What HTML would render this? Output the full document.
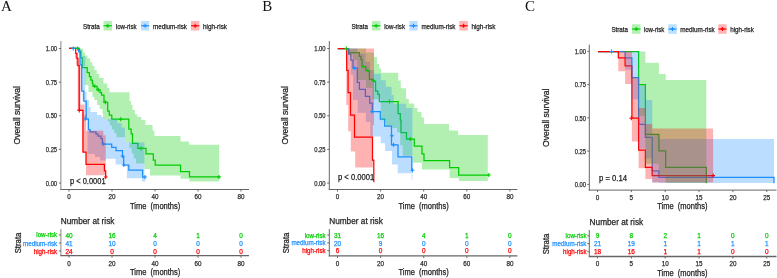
<!DOCTYPE html>
<html><head><meta charset="utf-8"><style>
html,body{margin:0;padding:0;background:#fff;}
svg{display:block;filter:blur(0.35px);}
</style></head><body>
<svg width="777" height="278" viewBox="0 0 777 278">
<rect width="777" height="278" fill="#fff"/>
<polyline points="69.0,48.4 79.3,48.4 79.3,51.2 80.8,51.2 80.8,57.6 82.2,57.6 82.2,67.7 87.2,67.7 87.2,72.7 89.4,72.7 89.4,76.5 90.9,76.5 90.9,80.0 92.3,80.0 92.3,83.0 93.0,83.0 93.0,86.3 97.1,86.3 97.1,89.8 100.0,89.8 100.0,92.6 101.6,92.6 101.6,95.0 104.0,95.0 104.0,102.3 107.7,102.3 107.7,111.2 109.3,111.2 109.3,115.2 111.8,115.2 111.8,119.2 128.8,119.2 128.8,129.0 131.2,129.0 131.2,133.9 132.5,133.9 132.5,143.4 137.9,143.4 137.9,148.4 146.0,148.4 146.0,153.9 153.3,153.9 153.3,160.2 155.2,160.2 155.2,165.2 180.5,165.2 180.5,171.5 189.5,171.5 189.5,176.9 219.2,176.9" fill="none" stroke="#00cd00" stroke-width="1.25" stroke-linejoin="miter" stroke-linecap="butt"/>
<polyline points="69.0,48.4 78.6,48.4 78.6,51.9 80.0,51.9 80.0,64.8 81.7,64.8 81.7,91.0 83.8,91.0 83.8,101.0 86.2,101.0 86.2,119.0 88.4,119.0 88.4,129.5 90.2,129.5 90.2,131.8 96.0,131.8 96.0,134.0 98.0,134.0 98.0,136.2 101.0,136.2 101.0,138.7 102.4,138.7 102.4,144.0 111.7,144.0 111.7,147.4 116.0,147.4 116.0,150.5 122.5,150.5 122.5,156.3 123.7,156.3 123.7,165.0 128.8,165.0 128.8,170.1 142.6,170.1 142.6,177.0 145.2,177.0" fill="none" stroke="#1e90ff" stroke-width="1.25" stroke-linejoin="miter" stroke-linecap="butt"/>
<polyline points="69.0,48.4 75.7,48.4 75.7,53.3 76.9,53.3 76.9,58.4 77.9,58.4 77.9,65.5 79.2,65.5 79.2,110.4 83.0,110.4 83.0,152.2 86.0,152.2 86.0,164.3 104.4,164.3 104.4,170.8 105.7,170.8 105.7,177.6" fill="none" stroke="#ff0000" stroke-width="1.25" stroke-linejoin="miter" stroke-linecap="butt"/>
<g opacity="0.3"><polygon points="79.6,48.4 82.9,48.4 82.9,52.6 85.0,52.6 85.0,55.5 87.5,55.5 87.5,58.2 90.2,58.2 90.2,62.3 92.3,62.3 92.3,65.8 94.4,65.8 94.4,70.0 96.8,70.0 96.8,74.0 99.2,74.0 99.2,78.0 103.5,78.0 103.5,83.5 107.2,83.5 107.2,88.0 109.4,88.0 109.4,92.3 129.5,92.3 129.5,101.0 131.0,101.0 131.0,105.0 132.6,105.0 132.6,110.0 135.0,110.0 135.0,114.2 137.2,114.2 137.2,117.0 141.3,117.0 141.3,120.0 145.4,120.0 145.4,125.0 152.6,125.0 152.6,130.6 154.4,130.6 154.4,136.0 180.5,136.0 180.5,141.4 189.0,141.4 189.0,144.7 219.2,144.7 219.2,181.4 189.5,181.4 189.5,178.7 180.5,178.7 180.5,175.5 150.0,175.5 150.0,169.0 144.4,169.0 144.4,163.5 136.0,163.5 136.0,158.6 133.6,158.6 133.6,153.2 131.5,153.2 131.5,147.8 129.3,147.8 129.3,142.4 125.0,142.4 125.0,137.3 116.4,137.3 116.4,133.0 114.2,133.0 114.2,129.5 112.0,129.5 112.0,125.5 109.9,125.5 109.9,121.5 107.7,121.5 107.7,119.3 103.0,119.3 103.0,113.0 102.4,113.0 102.4,109.0 99.7,109.0 99.7,105.0 97.0,105.0 97.0,100.0 94.3,100.0 94.3,97.0 92.5,97.0 92.5,92.0 88.4,92.0 88.4,85.0 84.6,85.0 84.6,66.0 82.5,66.0 82.5,56.0 81.0,56.0 81.0,51.0 79.6,51.0 79.6,48.4" fill="#00cd00"/></g>
<g opacity="0.3"><polygon points="78.3,48.4 80.5,48.4 80.5,51.0 81.5,51.0 81.5,56.0 85.2,56.0 85.2,92.0 86.6,92.0 86.6,100.0 88.9,100.0 88.9,107.0 90.7,107.0 90.7,112.0 97.0,112.0 97.0,115.0 101.5,115.0 101.5,117.0 103.0,117.0 103.0,119.3 117.4,119.3 117.4,123.3 121.8,123.3 121.8,127.4 125.0,127.4 125.0,142.4 144.4,142.4 144.4,178.0 145.3,178.0 145.3,181.5 142.0,181.5 142.0,178.3 126.9,178.3 126.9,164.4 115.6,164.4 115.6,158.8 105.8,158.8 105.8,160.5 100.0,160.5 100.0,157.0 95.0,157.0 95.0,154.0 87.5,154.0 87.5,119.0 84.5,119.0 84.5,101.0 82.5,101.0 82.5,91.0 81.0,91.0 81.0,65.0 79.5,65.0 79.5,51.0 78.3,51.0" fill="#1e90ff"/></g>
<g opacity="0.3"><polygon points="75.7,48.4 75.7,53.3 77.5,53.3 77.5,58.4 78.7,58.4 78.7,65.5 80.5,65.5 80.5,104.6 84.4,104.6 84.4,115.0 86.2,115.0 86.2,130.7 103.3,130.7 103.3,135.2 105.7,135.2 105.7,175.3 86.0,175.3 86.0,152.2 82.0,152.2 82.0,110.0 77.7,110.0 77.7,65.5 76.0,65.5 76.0,58.4 75.0,58.4 75.0,53.3 75.7,53.3" fill="#ff0000"/></g>
<path d="M75.7,48.4H79.5M77.6,46.4V50.4" stroke="#00cd00" stroke-width="1.1" fill="none"/>
<path d="M92.9,86.3H96.7M94.8,84.3V88.3" stroke="#00cd00" stroke-width="1.1" fill="none"/>
<path d="M96.4,89.8H100.2M98.3,87.8V91.8" stroke="#00cd00" stroke-width="1.1" fill="none"/>
<path d="M103.4,102.3H107.2M105.3,100.3V104.3" stroke="#00cd00" stroke-width="1.1" fill="none"/>
<path d="M118.8,119.2H122.6M120.7,117.2V121.2" stroke="#00cd00" stroke-width="1.1" fill="none"/>
<path d="M139.2,148.4H143.0M141.1,146.4V150.4" stroke="#00cd00" stroke-width="1.1" fill="none"/>
<path d="M217.1,176.9H220.9M219.0,174.9V178.9" stroke="#00cd00" stroke-width="1.1" fill="none"/>
<path d="M71.4,48.4H75.2M73.3,46.4V50.4" stroke="#1e90ff" stroke-width="1.1" fill="none"/>
<path d="M83.3,119.0H87.1M85.2,117.0V121.0" stroke="#1e90ff" stroke-width="1.1" fill="none"/>
<path d="M101.5,144.0H105.3M103.4,142.0V146.0" stroke="#1e90ff" stroke-width="1.1" fill="none"/>
<path d="M120.6,156.0H124.4M122.5,154.0V158.0" stroke="#1e90ff" stroke-width="1.1" fill="none"/>
<path d="M121.8,165.0H125.6M123.7,163.0V167.0" stroke="#1e90ff" stroke-width="1.1" fill="none"/>
<path d="M143.1,177.0H146.9M145.0,175.0V179.0" stroke="#1e90ff" stroke-width="1.1" fill="none"/>
<path d="M77.4,110.4H81.2M79.3,108.4V112.4" stroke="#ff0000" stroke-width="1.1" fill="none"/>
<path d="M103.8,177.0H107.6M105.7,175.0V179.0" stroke="#ff0000" stroke-width="1.1" fill="none"/>
<polyline points="337.8,48.5 348.6,48.5 348.6,52.6 359.4,52.6 359.4,56.3 361.0,56.3 361.0,59.6 362.1,59.6 362.1,66.6 365.9,66.6 365.9,70.6 369.4,70.6 369.4,79.4 373.6,79.4 373.6,81.3 375.6,81.3 375.6,91.0 377.8,91.0 377.8,94.3 379.4,94.3 379.4,101.5 398.1,101.5 398.1,113.7 400.3,113.7 400.3,120.2 401.0,120.2 401.0,132.6 406.5,132.6 406.5,139.0 414.3,139.0 414.3,146.0 422.0,146.0 422.0,153.8 424.0,153.8 424.0,160.5 449.6,160.5 449.6,167.7 458.7,167.7 458.7,175.0 489.0,175.0" fill="none" stroke="#00cd00" stroke-width="1.25" stroke-linejoin="miter" stroke-linecap="butt"/>
<polyline points="337.8,48.5 348.6,48.5 348.6,54.2 350.8,54.2 350.8,60.0 353.0,60.0 353.0,68.2 357.3,68.2 357.3,82.4 359.4,82.4 359.4,89.4 365.4,89.4 365.4,96.4 369.7,96.4 369.7,103.0 372.3,103.0 372.3,111.6 380.3,111.6 380.3,119.0 384.7,119.0 384.7,126.0 391.5,126.0 391.5,144.8 398.0,144.8 398.0,156.9 411.8,156.9 411.8,170.2 412.5,170.2" fill="none" stroke="#1e90ff" stroke-width="1.25" stroke-linejoin="miter" stroke-linecap="butt"/>
<polyline points="337.8,48.5 346.7,48.5 346.7,70.4 348.1,70.4 348.1,92.7 350.5,92.7 350.5,115.2 354.5,115.2 354.5,137.2 372.5,137.2 372.5,160.0 373.8,160.0 373.8,182.3" fill="none" stroke="#ff0000" stroke-width="1.25" stroke-linejoin="miter" stroke-linecap="butt"/>
<g opacity="0.3"><polygon points="348.6,48.5 365.9,48.5 365.9,52.6 374.0,52.6 374.0,57.0 376.9,57.0 376.9,64.1 379.2,64.1 379.2,68.5 381.0,68.5 381.0,72.8 398.2,72.8 398.2,80.5 400.8,80.5 400.8,88.3 406.0,88.3 406.0,98.7 408.8,98.7 408.8,103.5 414.2,103.5 414.2,108.0 417.5,108.0 417.5,112.0 421.5,112.0 421.5,117.5 424.0,117.5 424.0,124.0 449.0,124.0 449.0,130.5 458.2,130.5 458.2,135.0 487.8,135.0 487.8,181.1 458.9,181.1 458.9,178.0 449.6,178.0 449.6,169.6 421.9,169.6 421.9,162.7 412.8,162.7 412.8,155.7 402.7,155.7 402.7,145.2 400.2,145.2 400.2,132.6 397.0,132.6 397.0,128.0 392.3,128.0 392.3,126.0 385.9,126.0 385.9,120.2 380.8,120.2 380.8,99.3 372.4,99.3 372.4,88.0 366.0,88.0 366.0,80.0 357.3,80.0 357.3,60.0 353.0,60.0 353.0,55.0 348.6,55.0" fill="#00cd00"/></g>
<g opacity="0.3"><polygon points="348.6,48.5 357.3,48.5 357.3,53.6 365.5,53.6 365.5,62.0 370.0,62.0 370.0,70.0 374.0,70.0 374.0,73.7 380.8,73.7 380.8,80.2 385.8,80.2 385.8,86.7 391.6,86.7 391.6,95.0 393.7,95.0 393.7,103.7 406.0,103.7 406.0,108.0 412.4,108.0 412.4,179.6 411.6,179.6 411.6,173.3 397.7,173.3 397.7,164.5 392.0,164.5 392.0,150.9 385.1,150.9 385.1,143.3 380.7,143.3 380.7,136.4 370.3,136.4 370.3,122.1 365.9,122.1 365.9,112.7 357.7,112.7 357.7,100.0 353.0,100.0 353.0,75.0 350.8,75.0 350.8,54.0 348.6,54.0" fill="#1e90ff"/></g>
<g opacity="0.3"><polygon points="346.5,48.5 374.0,48.5 374.0,125.0 372.8,125.0 372.8,167.6 355.2,167.6 355.2,151.5 350.8,151.5 350.8,131.3 348.2,131.3 348.2,105.0 346.3,105.0 346.3,48.5" fill="#ff0000"/></g>
<path d="M344.4,48.5H348.2M346.3,46.5V50.5" stroke="#00cd00" stroke-width="1.1" fill="none"/>
<path d="M361.3,66.6H365.1M363.2,64.6V68.6" stroke="#00cd00" stroke-width="1.1" fill="none"/>
<path d="M365.9,70.6H369.7M367.8,68.6V72.6" stroke="#00cd00" stroke-width="1.1" fill="none"/>
<path d="M371.5,80.5H375.3M373.4,78.5V82.5" stroke="#00cd00" stroke-width="1.1" fill="none"/>
<path d="M387.6,101.5H391.4M389.5,99.5V103.5" stroke="#00cd00" stroke-width="1.1" fill="none"/>
<path d="M408.4,139.0H412.2M410.3,137.0V141.0" stroke="#00cd00" stroke-width="1.1" fill="none"/>
<path d="M486.9,175.0H490.7M488.8,173.0V177.0" stroke="#00cd00" stroke-width="1.1" fill="none"/>
<path d="M352.7,68.2H356.5M354.6,66.2V70.2" stroke="#1e90ff" stroke-width="1.1" fill="none"/>
<path d="M370.3,111.6H374.1M372.2,109.6V113.6" stroke="#1e90ff" stroke-width="1.1" fill="none"/>
<path d="M389.9,135.7H393.7M391.8,133.7V137.7" stroke="#1e90ff" stroke-width="1.1" fill="none"/>
<path d="M391.6,144.8H395.4M393.5,142.8V146.8" stroke="#1e90ff" stroke-width="1.1" fill="none"/>
<path d="M410.6,170.2H414.4M412.5,168.2V172.2" stroke="#1e90ff" stroke-width="1.1" fill="none"/>
<polyline points="598.0,51.5 638.6,51.5 638.6,84.5 645.4,84.5 645.4,134.4 658.9,134.4 658.9,150.9 665.7,150.9 665.7,167.3 706.3,167.3 706.3,183.2" fill="none" stroke="#00cd00" stroke-width="1.25" stroke-linejoin="miter" stroke-linecap="butt"/>
<polyline points="598.0,51.5 625.1,51.5 625.1,57.9 631.9,57.9 631.9,77.6 638.6,77.6 638.6,124.3 645.4,124.3 645.4,137.3 652.2,137.3 652.2,170.9 658.9,170.9 658.9,177.4 774.0,177.4 774.0,183.2" fill="none" stroke="#1e90ff" stroke-width="1.25" stroke-linejoin="miter" stroke-linecap="butt"/>
<polyline points="598.0,51.5 618.3,51.5 618.3,57.9 625.1,57.9 625.1,65.8 631.9,65.8 631.9,118.2 638.6,118.2 638.6,150.0 645.4,150.0 645.4,167.3 652.2,167.3 652.2,175.6 713.1,175.6" fill="none" stroke="#ff0000" stroke-width="1.25" stroke-linejoin="miter" stroke-linecap="butt"/>
<g opacity="0.3"><polygon points="638.6,51.5 645.4,51.5 645.4,62.8 658.9,62.8 658.9,74.1 665.7,74.1 665.7,80.0 706.3,80.0 706.3,182.9 665.7,182.9 665.7,175.9 658.9,175.9 658.9,163.7 645.4,163.7 645.4,116.0 638.6,116.0" fill="#00cd00"/></g>
<g opacity="0.3"><polygon points="625.1,51.5 631.9,51.5 631.9,51.5 638.6,51.5 638.6,85.5 645.4,85.5 645.4,99.9 652.2,99.9 652.2,134.4 658.9,134.4 658.9,139.1 774.0,139.1 774.0,182.9 658.9,182.9 658.9,182.4 652.2,182.4 652.2,158.6 645.4,158.6 645.4,148.8 638.6,148.8 638.6,99.4 631.9,99.4 631.9,69.7 625.1,69.7" fill="#1e90ff"/></g>
<g opacity="0.3"><polygon points="618.3,51.5 625.1,51.5 625.1,51.5 631.9,51.5 631.9,77.6 638.6,77.6 638.6,108.0 645.4,108.0 645.4,124.1 652.2,124.1 652.2,128.6 713.1,128.6 713.1,182.4 652.2,182.4 652.2,178.9 645.4,178.9 645.4,168.3 638.6,168.3 638.6,141.4 631.9,141.4 631.9,84.0 625.1,84.0 625.1,71.3 618.3,71.3" fill="#ff0000"/></g>
<path d="M609.6,51.5H613.4M611.5,49.5V53.5" stroke="#1e90ff" stroke-width="1.1" fill="none"/>
<path d="M629.4,118.2H633.2M631.3,116.2V120.2" stroke="#ff0000" stroke-width="1.1" fill="none"/>
<path d="M711.2,175.6H715.0M713.1,173.6V177.6" stroke="#ff0000" stroke-width="1.1" fill="none"/>
<text x="0.90" y="10.80" font-size="15" text-anchor="start" fill="#111" stroke="#111" stroke-width="0" font-family="Liberation Serif, serif">A</text>
<text x="83.00" y="29.10" font-size="7" text-anchor="start" fill="#222222" stroke="#222222" stroke-width="0.25" font-family="Liberation Sans, sans-serif" textLength="16.60" lengthAdjust="spacingAndGlyphs">Strata</text>
<rect x="103.50" y="21.00" width="8.50" height="9.50" fill="#b3f0b3"/>
<line x1="103.50" y1="25.75" x2="112.00" y2="25.75" stroke="#00cd00" stroke-width="1.1"/>
<line x1="105.95" y1="25.75" x2="109.55" y2="25.75" stroke="#00cd00" stroke-width="1.6"/>
<line x1="107.75" y1="23.75" x2="107.75" y2="27.75" stroke="#00cd00" stroke-width="1.0"/>
<text x="115.80" y="29.10" font-size="7" text-anchor="start" fill="#222222" stroke="#222222" stroke-width="0.25" font-family="Liberation Sans, sans-serif" textLength="20.80" lengthAdjust="spacingAndGlyphs">low-risk</text>
<rect x="141.00" y="21.00" width="8.20" height="9.50" fill="#bcdeff"/>
<line x1="141.00" y1="25.75" x2="149.20" y2="25.75" stroke="#1e90ff" stroke-width="1.1"/>
<line x1="143.30" y1="25.75" x2="146.90" y2="25.75" stroke="#1e90ff" stroke-width="1.6"/>
<line x1="145.10" y1="23.75" x2="145.10" y2="27.75" stroke="#1e90ff" stroke-width="1.0"/>
<text x="153.00" y="29.10" font-size="7" text-anchor="start" fill="#222222" stroke="#222222" stroke-width="0.25" font-family="Liberation Sans, sans-serif" textLength="34.00" lengthAdjust="spacingAndGlyphs">medium-risk</text>
<rect x="191.00" y="21.00" width="8.40" height="9.50" fill="#ffb3b3"/>
<line x1="191.00" y1="25.75" x2="199.40" y2="25.75" stroke="#ff0000" stroke-width="1.1"/>
<line x1="193.40" y1="25.75" x2="197.00" y2="25.75" stroke="#ff0000" stroke-width="1.6"/>
<line x1="195.20" y1="23.75" x2="195.20" y2="27.75" stroke="#ff0000" stroke-width="1.0"/>
<text x="203.00" y="29.10" font-size="7" text-anchor="start" fill="#222222" stroke="#222222" stroke-width="0.25" font-family="Liberation Sans, sans-serif" textLength="24.00" lengthAdjust="spacingAndGlyphs">high-risk</text>
<line x1="60.90" y1="41.00" x2="60.90" y2="190.00" stroke="#888" stroke-width="1"/>
<line x1="60.40" y1="189.50" x2="249.00" y2="189.50" stroke="#666" stroke-width="1"/>
<line x1="58.90" y1="48.50" x2="60.90" y2="48.50" stroke="#666" stroke-width="1"/>
<text x="57.10" y="51.15" font-size="7.4" text-anchor="end" fill="#2a2a2a" stroke="#2a2a2a" stroke-width="0.25" font-family="Liberation Sans, sans-serif" textLength="11.30" lengthAdjust="spacingAndGlyphs">1.00</text>
<line x1="58.90" y1="82.12" x2="60.90" y2="82.12" stroke="#666" stroke-width="1"/>
<text x="57.10" y="84.78" font-size="7.4" text-anchor="end" fill="#2a2a2a" stroke="#2a2a2a" stroke-width="0.25" font-family="Liberation Sans, sans-serif" textLength="11.30" lengthAdjust="spacingAndGlyphs">0.75</text>
<line x1="58.90" y1="115.75" x2="60.90" y2="115.75" stroke="#666" stroke-width="1"/>
<text x="57.10" y="118.40" font-size="7.4" text-anchor="end" fill="#2a2a2a" stroke="#2a2a2a" stroke-width="0.25" font-family="Liberation Sans, sans-serif" textLength="11.30" lengthAdjust="spacingAndGlyphs">0.50</text>
<line x1="58.90" y1="149.38" x2="60.90" y2="149.38" stroke="#666" stroke-width="1"/>
<text x="57.10" y="152.03" font-size="7.4" text-anchor="end" fill="#2a2a2a" stroke="#2a2a2a" stroke-width="0.25" font-family="Liberation Sans, sans-serif" textLength="11.30" lengthAdjust="spacingAndGlyphs">0.25</text>
<line x1="58.90" y1="183.00" x2="60.90" y2="183.00" stroke="#666" stroke-width="1"/>
<text x="57.10" y="185.65" font-size="7.4" text-anchor="end" fill="#2a2a2a" stroke="#2a2a2a" stroke-width="0.25" font-family="Liberation Sans, sans-serif" textLength="11.30" lengthAdjust="spacingAndGlyphs">0.00</text>
<line x1="69.00" y1="189.50" x2="69.00" y2="191.50" stroke="#666" stroke-width="1"/>
<text x="69.00" y="199.00" font-size="7.2" text-anchor="middle" fill="#2a2a2a" stroke="#2a2a2a" stroke-width="0.25" font-family="Liberation Sans, sans-serif" textLength="3.50" lengthAdjust="spacingAndGlyphs">0</text>
<line x1="112.00" y1="189.50" x2="112.00" y2="191.50" stroke="#666" stroke-width="1"/>
<text x="112.00" y="199.00" font-size="7.2" text-anchor="middle" fill="#2a2a2a" stroke="#2a2a2a" stroke-width="0.25" font-family="Liberation Sans, sans-serif" textLength="7.00" lengthAdjust="spacingAndGlyphs">20</text>
<line x1="155.00" y1="189.50" x2="155.00" y2="191.50" stroke="#666" stroke-width="1"/>
<text x="155.00" y="199.00" font-size="7.2" text-anchor="middle" fill="#2a2a2a" stroke="#2a2a2a" stroke-width="0.25" font-family="Liberation Sans, sans-serif" textLength="7.00" lengthAdjust="spacingAndGlyphs">40</text>
<line x1="198.00" y1="189.50" x2="198.00" y2="191.50" stroke="#666" stroke-width="1"/>
<text x="198.00" y="199.00" font-size="7.2" text-anchor="middle" fill="#2a2a2a" stroke="#2a2a2a" stroke-width="0.25" font-family="Liberation Sans, sans-serif" textLength="7.00" lengthAdjust="spacingAndGlyphs">60</text>
<line x1="241.00" y1="189.50" x2="241.00" y2="191.50" stroke="#666" stroke-width="1"/>
<text x="241.00" y="199.00" font-size="7.2" text-anchor="middle" fill="#2a2a2a" stroke="#2a2a2a" stroke-width="0.25" font-family="Liberation Sans, sans-serif" textLength="7.00" lengthAdjust="spacingAndGlyphs">80</text>
<text x="130.00" y="208.70" font-size="8.4" text-anchor="start" fill="#222" stroke="#222" stroke-width="0.25" font-family="Liberation Sans, sans-serif" textLength="50.30" lengthAdjust="spacingAndGlyphs">Time&#160; (months)</text>
<text transform="translate(20.00,115.20) rotate(-90)" x="0" y="0" font-size="8.5" text-anchor="middle" fill="#222" stroke="#222" stroke-width="0.25" font-family="Liberation Sans, sans-serif" textLength="58.40" lengthAdjust="spacingAndGlyphs">Overall survival</text>
<text x="70.00" y="183.70" font-size="8.4" text-anchor="start" fill="#222" stroke="#222" stroke-width="0.25" font-family="Liberation Sans, sans-serif" textLength="35.60" lengthAdjust="spacingAndGlyphs">p &lt; 0.0001</text>
<text x="60.80" y="224.00" font-size="8.6" text-anchor="start" fill="#222" stroke="#222" stroke-width="0.25" font-family="Liberation Sans, sans-serif" textLength="53.60" lengthAdjust="spacingAndGlyphs">Number at risk</text>
<line x1="60.90" y1="229.00" x2="60.90" y2="256.10" stroke="#888" stroke-width="1"/>
<line x1="60.40" y1="255.60" x2="249.00" y2="255.60" stroke="#666" stroke-width="1.3"/>
<line x1="58.90" y1="234.90" x2="60.90" y2="234.90" stroke="#666" stroke-width="1"/>
<text x="57.20" y="237.40" font-size="7" text-anchor="end" fill="#00cd00" stroke="#00cd00" stroke-width="0.25" font-family="Liberation Sans, sans-serif" textLength="20.90" lengthAdjust="spacingAndGlyphs">low-risk</text>
<text x="69.00" y="237.50" font-size="7.4" text-anchor="middle" fill="#00cd00" stroke="#00cd00" stroke-width="0.25" font-family="Liberation Sans, sans-serif" textLength="7.20" lengthAdjust="spacingAndGlyphs">40</text>
<text x="112.00" y="237.50" font-size="7.4" text-anchor="middle" fill="#00cd00" stroke="#00cd00" stroke-width="0.25" font-family="Liberation Sans, sans-serif" textLength="7.20" lengthAdjust="spacingAndGlyphs">16</text>
<text x="155.00" y="237.50" font-size="7.4" text-anchor="middle" fill="#00cd00" stroke="#00cd00" stroke-width="0.25" font-family="Liberation Sans, sans-serif" textLength="3.60" lengthAdjust="spacingAndGlyphs">4</text>
<text x="198.00" y="237.50" font-size="7.4" text-anchor="middle" fill="#00cd00" stroke="#00cd00" stroke-width="0.25" font-family="Liberation Sans, sans-serif" textLength="3.60" lengthAdjust="spacingAndGlyphs">1</text>
<text x="241.00" y="237.50" font-size="7.4" text-anchor="middle" fill="#00cd00" stroke="#00cd00" stroke-width="0.25" font-family="Liberation Sans, sans-serif" textLength="3.60" lengthAdjust="spacingAndGlyphs">0</text>
<line x1="58.90" y1="243.00" x2="60.90" y2="243.00" stroke="#666" stroke-width="1"/>
<text x="57.20" y="245.50" font-size="7" text-anchor="end" fill="#1e90ff" stroke="#1e90ff" stroke-width="0.25" font-family="Liberation Sans, sans-serif" textLength="34.20" lengthAdjust="spacingAndGlyphs">medium-risk</text>
<text x="69.00" y="245.60" font-size="7.4" text-anchor="middle" fill="#1e90ff" stroke="#1e90ff" stroke-width="0.25" font-family="Liberation Sans, sans-serif" textLength="7.20" lengthAdjust="spacingAndGlyphs">41</text>
<text x="112.00" y="245.60" font-size="7.4" text-anchor="middle" fill="#1e90ff" stroke="#1e90ff" stroke-width="0.25" font-family="Liberation Sans, sans-serif" textLength="7.20" lengthAdjust="spacingAndGlyphs">10</text>
<text x="155.00" y="245.60" font-size="7.4" text-anchor="middle" fill="#1e90ff" stroke="#1e90ff" stroke-width="0.25" font-family="Liberation Sans, sans-serif" textLength="3.60" lengthAdjust="spacingAndGlyphs">0</text>
<text x="198.00" y="245.60" font-size="7.4" text-anchor="middle" fill="#1e90ff" stroke="#1e90ff" stroke-width="0.25" font-family="Liberation Sans, sans-serif" textLength="3.60" lengthAdjust="spacingAndGlyphs">0</text>
<text x="241.00" y="245.60" font-size="7.4" text-anchor="middle" fill="#1e90ff" stroke="#1e90ff" stroke-width="0.25" font-family="Liberation Sans, sans-serif" textLength="3.60" lengthAdjust="spacingAndGlyphs">0</text>
<line x1="58.90" y1="251.10" x2="60.90" y2="251.10" stroke="#666" stroke-width="1"/>
<text x="57.20" y="253.60" font-size="7" text-anchor="end" fill="#ff0000" stroke="#ff0000" stroke-width="0.25" font-family="Liberation Sans, sans-serif" textLength="23.40" lengthAdjust="spacingAndGlyphs">high-risk</text>
<text x="69.00" y="253.70" font-size="7.4" text-anchor="middle" fill="#ff0000" stroke="#ff0000" stroke-width="0.25" font-family="Liberation Sans, sans-serif" textLength="7.20" lengthAdjust="spacingAndGlyphs">24</text>
<text x="112.00" y="253.70" font-size="7.4" text-anchor="middle" fill="#ff0000" stroke="#ff0000" stroke-width="0.25" font-family="Liberation Sans, sans-serif" textLength="3.60" lengthAdjust="spacingAndGlyphs">0</text>
<text x="155.00" y="253.70" font-size="7.4" text-anchor="middle" fill="#ff0000" stroke="#ff0000" stroke-width="0.25" font-family="Liberation Sans, sans-serif" textLength="3.60" lengthAdjust="spacingAndGlyphs">0</text>
<text x="198.00" y="253.70" font-size="7.4" text-anchor="middle" fill="#ff0000" stroke="#ff0000" stroke-width="0.25" font-family="Liberation Sans, sans-serif" textLength="3.60" lengthAdjust="spacingAndGlyphs">0</text>
<text x="241.00" y="253.70" font-size="7.4" text-anchor="middle" fill="#ff0000" stroke="#ff0000" stroke-width="0.25" font-family="Liberation Sans, sans-serif" textLength="3.60" lengthAdjust="spacingAndGlyphs">0</text>
<line x1="69.00" y1="255.60" x2="69.00" y2="257.60" stroke="#666" stroke-width="1"/>
<text x="69.00" y="265.50" font-size="7.2" text-anchor="middle" fill="#2a2a2a" stroke="#2a2a2a" stroke-width="0.25" font-family="Liberation Sans, sans-serif" textLength="3.50" lengthAdjust="spacingAndGlyphs">0</text>
<line x1="112.00" y1="255.60" x2="112.00" y2="257.60" stroke="#666" stroke-width="1"/>
<text x="112.00" y="265.50" font-size="7.2" text-anchor="middle" fill="#2a2a2a" stroke="#2a2a2a" stroke-width="0.25" font-family="Liberation Sans, sans-serif" textLength="7.00" lengthAdjust="spacingAndGlyphs">20</text>
<line x1="155.00" y1="255.60" x2="155.00" y2="257.60" stroke="#666" stroke-width="1"/>
<text x="155.00" y="265.50" font-size="7.2" text-anchor="middle" fill="#2a2a2a" stroke="#2a2a2a" stroke-width="0.25" font-family="Liberation Sans, sans-serif" textLength="7.00" lengthAdjust="spacingAndGlyphs">40</text>
<line x1="198.00" y1="255.60" x2="198.00" y2="257.60" stroke="#666" stroke-width="1"/>
<text x="198.00" y="265.50" font-size="7.2" text-anchor="middle" fill="#2a2a2a" stroke="#2a2a2a" stroke-width="0.25" font-family="Liberation Sans, sans-serif" textLength="7.00" lengthAdjust="spacingAndGlyphs">60</text>
<line x1="241.00" y1="255.60" x2="241.00" y2="257.60" stroke="#666" stroke-width="1"/>
<text x="241.00" y="265.50" font-size="7.2" text-anchor="middle" fill="#2a2a2a" stroke="#2a2a2a" stroke-width="0.25" font-family="Liberation Sans, sans-serif" textLength="7.00" lengthAdjust="spacingAndGlyphs">80</text>
<text x="130.00" y="275.00" font-size="8.4" text-anchor="start" fill="#222" stroke="#222" stroke-width="0.25" font-family="Liberation Sans, sans-serif" textLength="50.30" lengthAdjust="spacingAndGlyphs">Time&#160; (months)</text>
<text transform="translate(20.50,243.00) rotate(-90)" x="0" y="0" font-size="8.5" text-anchor="middle" fill="#222" stroke="#222" stroke-width="0.25" font-family="Liberation Sans, sans-serif" textLength="20.70" lengthAdjust="spacingAndGlyphs">Strata</text>
<text x="262.20" y="10.60" font-size="15" text-anchor="start" fill="#111" stroke="#111" stroke-width="0" font-family="Liberation Serif, serif">B</text>
<text x="351.40" y="29.10" font-size="7" text-anchor="start" fill="#222222" stroke="#222222" stroke-width="0.25" font-family="Liberation Sans, sans-serif" textLength="16.60" lengthAdjust="spacingAndGlyphs">Strata</text>
<rect x="371.90" y="21.00" width="8.50" height="9.50" fill="#b3f0b3"/>
<line x1="371.90" y1="25.75" x2="380.40" y2="25.75" stroke="#00cd00" stroke-width="1.1"/>
<line x1="374.35" y1="25.75" x2="377.95" y2="25.75" stroke="#00cd00" stroke-width="1.6"/>
<line x1="376.15" y1="23.75" x2="376.15" y2="27.75" stroke="#00cd00" stroke-width="1.0"/>
<text x="384.20" y="29.10" font-size="7" text-anchor="start" fill="#222222" stroke="#222222" stroke-width="0.25" font-family="Liberation Sans, sans-serif" textLength="20.80" lengthAdjust="spacingAndGlyphs">low-risk</text>
<rect x="409.40" y="21.00" width="8.20" height="9.50" fill="#bcdeff"/>
<line x1="409.40" y1="25.75" x2="417.60" y2="25.75" stroke="#1e90ff" stroke-width="1.1"/>
<line x1="411.70" y1="25.75" x2="415.30" y2="25.75" stroke="#1e90ff" stroke-width="1.6"/>
<line x1="413.50" y1="23.75" x2="413.50" y2="27.75" stroke="#1e90ff" stroke-width="1.0"/>
<text x="421.40" y="29.10" font-size="7" text-anchor="start" fill="#222222" stroke="#222222" stroke-width="0.25" font-family="Liberation Sans, sans-serif" textLength="34.00" lengthAdjust="spacingAndGlyphs">medium-risk</text>
<rect x="459.40" y="21.00" width="8.40" height="9.50" fill="#ffb3b3"/>
<line x1="459.40" y1="25.75" x2="467.80" y2="25.75" stroke="#ff0000" stroke-width="1.1"/>
<line x1="461.80" y1="25.75" x2="465.40" y2="25.75" stroke="#ff0000" stroke-width="1.6"/>
<line x1="463.60" y1="23.75" x2="463.60" y2="27.75" stroke="#ff0000" stroke-width="1.0"/>
<text x="471.40" y="29.10" font-size="7" text-anchor="start" fill="#222222" stroke="#222222" stroke-width="0.25" font-family="Liberation Sans, sans-serif" textLength="24.00" lengthAdjust="spacingAndGlyphs">high-risk</text>
<line x1="329.30" y1="41.00" x2="329.30" y2="190.00" stroke="#666" stroke-width="1"/>
<line x1="328.80" y1="189.50" x2="517.40" y2="189.50" stroke="#666" stroke-width="1"/>
<line x1="327.30" y1="48.50" x2="329.30" y2="48.50" stroke="#666" stroke-width="1"/>
<text x="325.50" y="51.15" font-size="7.4" text-anchor="end" fill="#2a2a2a" stroke="#2a2a2a" stroke-width="0.25" font-family="Liberation Sans, sans-serif" textLength="11.30" lengthAdjust="spacingAndGlyphs">1.00</text>
<line x1="327.30" y1="82.12" x2="329.30" y2="82.12" stroke="#666" stroke-width="1"/>
<text x="325.50" y="84.78" font-size="7.4" text-anchor="end" fill="#2a2a2a" stroke="#2a2a2a" stroke-width="0.25" font-family="Liberation Sans, sans-serif" textLength="11.30" lengthAdjust="spacingAndGlyphs">0.75</text>
<line x1="327.30" y1="115.75" x2="329.30" y2="115.75" stroke="#666" stroke-width="1"/>
<text x="325.50" y="118.40" font-size="7.4" text-anchor="end" fill="#2a2a2a" stroke="#2a2a2a" stroke-width="0.25" font-family="Liberation Sans, sans-serif" textLength="11.30" lengthAdjust="spacingAndGlyphs">0.50</text>
<line x1="327.30" y1="149.38" x2="329.30" y2="149.38" stroke="#666" stroke-width="1"/>
<text x="325.50" y="152.03" font-size="7.4" text-anchor="end" fill="#2a2a2a" stroke="#2a2a2a" stroke-width="0.25" font-family="Liberation Sans, sans-serif" textLength="11.30" lengthAdjust="spacingAndGlyphs">0.25</text>
<line x1="327.30" y1="183.00" x2="329.30" y2="183.00" stroke="#666" stroke-width="1"/>
<text x="325.50" y="185.65" font-size="7.4" text-anchor="end" fill="#2a2a2a" stroke="#2a2a2a" stroke-width="0.25" font-family="Liberation Sans, sans-serif" textLength="11.30" lengthAdjust="spacingAndGlyphs">0.00</text>
<line x1="337.50" y1="189.50" x2="337.50" y2="191.50" stroke="#666" stroke-width="1"/>
<text x="337.50" y="199.00" font-size="7.2" text-anchor="middle" fill="#2a2a2a" stroke="#2a2a2a" stroke-width="0.25" font-family="Liberation Sans, sans-serif" textLength="3.50" lengthAdjust="spacingAndGlyphs">0</text>
<line x1="380.60" y1="189.50" x2="380.60" y2="191.50" stroke="#666" stroke-width="1"/>
<text x="380.60" y="199.00" font-size="7.2" text-anchor="middle" fill="#2a2a2a" stroke="#2a2a2a" stroke-width="0.25" font-family="Liberation Sans, sans-serif" textLength="7.00" lengthAdjust="spacingAndGlyphs">20</text>
<line x1="423.70" y1="189.50" x2="423.70" y2="191.50" stroke="#666" stroke-width="1"/>
<text x="423.70" y="199.00" font-size="7.2" text-anchor="middle" fill="#2a2a2a" stroke="#2a2a2a" stroke-width="0.25" font-family="Liberation Sans, sans-serif" textLength="7.00" lengthAdjust="spacingAndGlyphs">40</text>
<line x1="466.80" y1="189.50" x2="466.80" y2="191.50" stroke="#666" stroke-width="1"/>
<text x="466.80" y="199.00" font-size="7.2" text-anchor="middle" fill="#2a2a2a" stroke="#2a2a2a" stroke-width="0.25" font-family="Liberation Sans, sans-serif" textLength="7.00" lengthAdjust="spacingAndGlyphs">60</text>
<line x1="509.90" y1="189.50" x2="509.90" y2="191.50" stroke="#666" stroke-width="1"/>
<text x="509.90" y="199.00" font-size="7.2" text-anchor="middle" fill="#2a2a2a" stroke="#2a2a2a" stroke-width="0.25" font-family="Liberation Sans, sans-serif" textLength="7.00" lengthAdjust="spacingAndGlyphs">80</text>
<text x="398.40" y="208.70" font-size="8.4" text-anchor="start" fill="#222" stroke="#222" stroke-width="0.25" font-family="Liberation Sans, sans-serif" textLength="50.30" lengthAdjust="spacingAndGlyphs">Time&#160; (months)</text>
<text transform="translate(288.40,115.20) rotate(-90)" x="0" y="0" font-size="8.5" text-anchor="middle" fill="#222" stroke="#222" stroke-width="0.25" font-family="Liberation Sans, sans-serif" textLength="58.40" lengthAdjust="spacingAndGlyphs">Overall survival</text>
<text x="338.00" y="179.90" font-size="8.4" text-anchor="start" fill="#222" stroke="#222" stroke-width="0.25" font-family="Liberation Sans, sans-serif" textLength="36.20" lengthAdjust="spacingAndGlyphs">p &lt; 0.0001</text>
<text x="329.20" y="224.00" font-size="8.6" text-anchor="start" fill="#222" stroke="#222" stroke-width="0.25" font-family="Liberation Sans, sans-serif" textLength="53.60" lengthAdjust="spacingAndGlyphs">Number at risk</text>
<line x1="329.30" y1="229.00" x2="329.30" y2="256.40" stroke="#666" stroke-width="1"/>
<line x1="328.80" y1="255.90" x2="517.40" y2="255.90" stroke="#666" stroke-width="1.3"/>
<line x1="327.30" y1="235.00" x2="329.30" y2="235.00" stroke="#666" stroke-width="1"/>
<text x="325.60" y="237.50" font-size="7" text-anchor="end" fill="#00cd00" stroke="#00cd00" stroke-width="0.25" font-family="Liberation Sans, sans-serif" textLength="20.90" lengthAdjust="spacingAndGlyphs">low-risk</text>
<text x="337.50" y="237.60" font-size="7.4" text-anchor="middle" fill="#00cd00" stroke="#00cd00" stroke-width="0.25" font-family="Liberation Sans, sans-serif" textLength="7.20" lengthAdjust="spacingAndGlyphs">31</text>
<text x="380.60" y="237.60" font-size="7.4" text-anchor="middle" fill="#00cd00" stroke="#00cd00" stroke-width="0.25" font-family="Liberation Sans, sans-serif" textLength="7.20" lengthAdjust="spacingAndGlyphs">16</text>
<text x="423.70" y="237.60" font-size="7.4" text-anchor="middle" fill="#00cd00" stroke="#00cd00" stroke-width="0.25" font-family="Liberation Sans, sans-serif" textLength="3.60" lengthAdjust="spacingAndGlyphs">4</text>
<text x="466.80" y="237.60" font-size="7.4" text-anchor="middle" fill="#00cd00" stroke="#00cd00" stroke-width="0.25" font-family="Liberation Sans, sans-serif" textLength="3.60" lengthAdjust="spacingAndGlyphs">1</text>
<text x="509.90" y="237.60" font-size="7.4" text-anchor="middle" fill="#00cd00" stroke="#00cd00" stroke-width="0.25" font-family="Liberation Sans, sans-serif" textLength="3.60" lengthAdjust="spacingAndGlyphs">0</text>
<line x1="327.30" y1="242.90" x2="329.30" y2="242.90" stroke="#666" stroke-width="1"/>
<text x="325.60" y="245.40" font-size="7" text-anchor="end" fill="#1e90ff" stroke="#1e90ff" stroke-width="0.25" font-family="Liberation Sans, sans-serif" textLength="34.20" lengthAdjust="spacingAndGlyphs">medium-risk</text>
<text x="337.50" y="245.50" font-size="7.4" text-anchor="middle" fill="#1e90ff" stroke="#1e90ff" stroke-width="0.25" font-family="Liberation Sans, sans-serif" textLength="7.20" lengthAdjust="spacingAndGlyphs">20</text>
<text x="380.60" y="245.50" font-size="7.4" text-anchor="middle" fill="#1e90ff" stroke="#1e90ff" stroke-width="0.25" font-family="Liberation Sans, sans-serif" textLength="3.60" lengthAdjust="spacingAndGlyphs">9</text>
<text x="423.70" y="245.50" font-size="7.4" text-anchor="middle" fill="#1e90ff" stroke="#1e90ff" stroke-width="0.25" font-family="Liberation Sans, sans-serif" textLength="3.60" lengthAdjust="spacingAndGlyphs">0</text>
<text x="466.80" y="245.50" font-size="7.4" text-anchor="middle" fill="#1e90ff" stroke="#1e90ff" stroke-width="0.25" font-family="Liberation Sans, sans-serif" textLength="3.60" lengthAdjust="spacingAndGlyphs">0</text>
<text x="509.90" y="245.50" font-size="7.4" text-anchor="middle" fill="#1e90ff" stroke="#1e90ff" stroke-width="0.25" font-family="Liberation Sans, sans-serif" textLength="3.60" lengthAdjust="spacingAndGlyphs">0</text>
<line x1="327.30" y1="250.70" x2="329.30" y2="250.70" stroke="#666" stroke-width="1"/>
<text x="325.60" y="253.20" font-size="7" text-anchor="end" fill="#ff0000" stroke="#ff0000" stroke-width="0.25" font-family="Liberation Sans, sans-serif" textLength="23.40" lengthAdjust="spacingAndGlyphs">high-risk</text>
<text x="337.50" y="253.30" font-size="7.4" text-anchor="middle" fill="#ff0000" stroke="#ff0000" stroke-width="0.25" font-family="Liberation Sans, sans-serif" textLength="3.60" lengthAdjust="spacingAndGlyphs">6</text>
<text x="380.60" y="253.30" font-size="7.4" text-anchor="middle" fill="#ff0000" stroke="#ff0000" stroke-width="0.25" font-family="Liberation Sans, sans-serif" textLength="3.60" lengthAdjust="spacingAndGlyphs">0</text>
<text x="423.70" y="253.30" font-size="7.4" text-anchor="middle" fill="#ff0000" stroke="#ff0000" stroke-width="0.25" font-family="Liberation Sans, sans-serif" textLength="3.60" lengthAdjust="spacingAndGlyphs">0</text>
<text x="466.80" y="253.30" font-size="7.4" text-anchor="middle" fill="#ff0000" stroke="#ff0000" stroke-width="0.25" font-family="Liberation Sans, sans-serif" textLength="3.60" lengthAdjust="spacingAndGlyphs">0</text>
<text x="509.90" y="253.30" font-size="7.4" text-anchor="middle" fill="#ff0000" stroke="#ff0000" stroke-width="0.25" font-family="Liberation Sans, sans-serif" textLength="3.60" lengthAdjust="spacingAndGlyphs">0</text>
<line x1="337.50" y1="255.90" x2="337.50" y2="257.90" stroke="#666" stroke-width="1"/>
<text x="337.50" y="265.50" font-size="7.2" text-anchor="middle" fill="#2a2a2a" stroke="#2a2a2a" stroke-width="0.25" font-family="Liberation Sans, sans-serif" textLength="3.50" lengthAdjust="spacingAndGlyphs">0</text>
<line x1="380.60" y1="255.90" x2="380.60" y2="257.90" stroke="#666" stroke-width="1"/>
<text x="380.60" y="265.50" font-size="7.2" text-anchor="middle" fill="#2a2a2a" stroke="#2a2a2a" stroke-width="0.25" font-family="Liberation Sans, sans-serif" textLength="7.00" lengthAdjust="spacingAndGlyphs">20</text>
<line x1="423.70" y1="255.90" x2="423.70" y2="257.90" stroke="#666" stroke-width="1"/>
<text x="423.70" y="265.50" font-size="7.2" text-anchor="middle" fill="#2a2a2a" stroke="#2a2a2a" stroke-width="0.25" font-family="Liberation Sans, sans-serif" textLength="7.00" lengthAdjust="spacingAndGlyphs">40</text>
<line x1="466.80" y1="255.90" x2="466.80" y2="257.90" stroke="#666" stroke-width="1"/>
<text x="466.80" y="265.50" font-size="7.2" text-anchor="middle" fill="#2a2a2a" stroke="#2a2a2a" stroke-width="0.25" font-family="Liberation Sans, sans-serif" textLength="7.00" lengthAdjust="spacingAndGlyphs">60</text>
<line x1="509.90" y1="255.90" x2="509.90" y2="257.90" stroke="#666" stroke-width="1"/>
<text x="509.90" y="265.50" font-size="7.2" text-anchor="middle" fill="#2a2a2a" stroke="#2a2a2a" stroke-width="0.25" font-family="Liberation Sans, sans-serif" textLength="7.00" lengthAdjust="spacingAndGlyphs">80</text>
<text x="398.40" y="275.00" font-size="8.4" text-anchor="start" fill="#222" stroke="#222" stroke-width="0.25" font-family="Liberation Sans, sans-serif" textLength="50.30" lengthAdjust="spacingAndGlyphs">Time&#160; (months)</text>
<text transform="translate(288.90,243.00) rotate(-90)" x="0" y="0" font-size="8.5" text-anchor="middle" fill="#222" stroke="#222" stroke-width="0.25" font-family="Liberation Sans, sans-serif" textLength="20.70" lengthAdjust="spacingAndGlyphs">Strata</text>
<text x="525.00" y="11.00" font-size="15" text-anchor="start" fill="#111" stroke="#111" stroke-width="0" font-family="Liberation Serif, serif">C</text>
<text x="611.40" y="32.40" font-size="7" text-anchor="start" fill="#222222" stroke="#222222" stroke-width="0.25" font-family="Liberation Sans, sans-serif" textLength="16.60" lengthAdjust="spacingAndGlyphs">Strata</text>
<rect x="632.00" y="24.30" width="8.50" height="9.50" fill="#b3f0b3"/>
<line x1="632.00" y1="29.05" x2="640.50" y2="29.05" stroke="#00cd00" stroke-width="1.1"/>
<line x1="634.45" y1="29.05" x2="638.05" y2="29.05" stroke="#00cd00" stroke-width="1.6"/>
<line x1="636.25" y1="27.05" x2="636.25" y2="31.05" stroke="#00cd00" stroke-width="1.0"/>
<text x="643.80" y="32.40" font-size="7" text-anchor="start" fill="#222222" stroke="#222222" stroke-width="0.25" font-family="Liberation Sans, sans-serif" textLength="20.50" lengthAdjust="spacingAndGlyphs">low-risk</text>
<rect x="668.30" y="24.30" width="8.40" height="9.50" fill="#bcdeff"/>
<line x1="668.30" y1="29.05" x2="676.70" y2="29.05" stroke="#1e90ff" stroke-width="1.1"/>
<line x1="670.70" y1="29.05" x2="674.30" y2="29.05" stroke="#1e90ff" stroke-width="1.6"/>
<line x1="672.50" y1="27.05" x2="672.50" y2="31.05" stroke="#1e90ff" stroke-width="1.0"/>
<text x="680.30" y="32.40" font-size="7" text-anchor="start" fill="#222222" stroke="#222222" stroke-width="0.25" font-family="Liberation Sans, sans-serif" textLength="34.50" lengthAdjust="spacingAndGlyphs">medium-risk</text>
<rect x="718.30" y="24.30" width="8.30" height="9.50" fill="#ffb3b3"/>
<line x1="718.30" y1="29.05" x2="726.60" y2="29.05" stroke="#ff0000" stroke-width="1.1"/>
<line x1="720.65" y1="29.05" x2="724.25" y2="29.05" stroke="#ff0000" stroke-width="1.6"/>
<line x1="722.45" y1="27.05" x2="722.45" y2="31.05" stroke="#ff0000" stroke-width="1.0"/>
<text x="730.20" y="32.40" font-size="7" text-anchor="start" fill="#222222" stroke="#222222" stroke-width="0.25" font-family="Liberation Sans, sans-serif" textLength="23.70" lengthAdjust="spacingAndGlyphs">high-risk</text>
<line x1="589.30" y1="44.60" x2="589.30" y2="190.60" stroke="#666" stroke-width="1"/>
<line x1="588.80" y1="190.10" x2="776.50" y2="190.10" stroke="#666" stroke-width="1"/>
<line x1="587.30" y1="51.30" x2="589.30" y2="51.30" stroke="#666" stroke-width="1"/>
<text x="586.00" y="53.95" font-size="7.4" text-anchor="end" fill="#2a2a2a" stroke="#2a2a2a" stroke-width="0.25" font-family="Liberation Sans, sans-serif" textLength="11.30" lengthAdjust="spacingAndGlyphs">1.00</text>
<line x1="587.30" y1="84.58" x2="589.30" y2="84.58" stroke="#666" stroke-width="1"/>
<text x="586.00" y="87.23" font-size="7.4" text-anchor="end" fill="#2a2a2a" stroke="#2a2a2a" stroke-width="0.25" font-family="Liberation Sans, sans-serif" textLength="11.30" lengthAdjust="spacingAndGlyphs">0.75</text>
<line x1="587.30" y1="117.85" x2="589.30" y2="117.85" stroke="#666" stroke-width="1"/>
<text x="586.00" y="120.50" font-size="7.4" text-anchor="end" fill="#2a2a2a" stroke="#2a2a2a" stroke-width="0.25" font-family="Liberation Sans, sans-serif" textLength="11.30" lengthAdjust="spacingAndGlyphs">0.50</text>
<line x1="587.30" y1="151.12" x2="589.30" y2="151.12" stroke="#666" stroke-width="1"/>
<text x="586.00" y="153.78" font-size="7.4" text-anchor="end" fill="#2a2a2a" stroke="#2a2a2a" stroke-width="0.25" font-family="Liberation Sans, sans-serif" textLength="11.30" lengthAdjust="spacingAndGlyphs">0.25</text>
<line x1="587.30" y1="184.40" x2="589.30" y2="184.40" stroke="#666" stroke-width="1"/>
<text x="586.00" y="187.05" font-size="7.4" text-anchor="end" fill="#2a2a2a" stroke="#2a2a2a" stroke-width="0.25" font-family="Liberation Sans, sans-serif" textLength="11.30" lengthAdjust="spacingAndGlyphs">0.00</text>
<line x1="597.50" y1="190.10" x2="597.50" y2="192.10" stroke="#666" stroke-width="1"/>
<text x="597.50" y="199.80" font-size="7.2" text-anchor="middle" fill="#2a2a2a" stroke="#2a2a2a" stroke-width="0.25" font-family="Liberation Sans, sans-serif" textLength="3.50" lengthAdjust="spacingAndGlyphs">0</text>
<line x1="631.35" y1="190.10" x2="631.35" y2="192.10" stroke="#666" stroke-width="1"/>
<text x="631.35" y="199.80" font-size="7.2" text-anchor="middle" fill="#2a2a2a" stroke="#2a2a2a" stroke-width="0.25" font-family="Liberation Sans, sans-serif" textLength="3.50" lengthAdjust="spacingAndGlyphs">5</text>
<line x1="665.20" y1="190.10" x2="665.20" y2="192.10" stroke="#666" stroke-width="1"/>
<text x="665.20" y="199.80" font-size="7.2" text-anchor="middle" fill="#2a2a2a" stroke="#2a2a2a" stroke-width="0.25" font-family="Liberation Sans, sans-serif" textLength="7.00" lengthAdjust="spacingAndGlyphs">10</text>
<line x1="699.05" y1="190.10" x2="699.05" y2="192.10" stroke="#666" stroke-width="1"/>
<text x="699.05" y="199.80" font-size="7.2" text-anchor="middle" fill="#2a2a2a" stroke="#2a2a2a" stroke-width="0.25" font-family="Liberation Sans, sans-serif" textLength="7.00" lengthAdjust="spacingAndGlyphs">15</text>
<line x1="732.90" y1="190.10" x2="732.90" y2="192.10" stroke="#666" stroke-width="1"/>
<text x="732.90" y="199.80" font-size="7.2" text-anchor="middle" fill="#2a2a2a" stroke="#2a2a2a" stroke-width="0.25" font-family="Liberation Sans, sans-serif" textLength="7.00" lengthAdjust="spacingAndGlyphs">20</text>
<line x1="766.75" y1="190.10" x2="766.75" y2="192.10" stroke="#666" stroke-width="1"/>
<text x="766.75" y="199.80" font-size="7.2" text-anchor="middle" fill="#2a2a2a" stroke="#2a2a2a" stroke-width="0.25" font-family="Liberation Sans, sans-serif" textLength="7.00" lengthAdjust="spacingAndGlyphs">25</text>
<text x="657.20" y="209.20" font-size="8.4" text-anchor="start" fill="#222" stroke="#222" stroke-width="0.25" font-family="Liberation Sans, sans-serif" textLength="50.30" lengthAdjust="spacingAndGlyphs">Time&#160; (months)</text>
<text transform="translate(549.00,117.70) rotate(-90)" x="0" y="0" font-size="8.5" text-anchor="middle" fill="#222" stroke="#222" stroke-width="0.25" font-family="Liberation Sans, sans-serif" textLength="58.40" lengthAdjust="spacingAndGlyphs">Overall survival</text>
<text x="599.00" y="181.00" font-size="8.4" text-anchor="start" fill="#222" stroke="#222" stroke-width="0.25" font-family="Liberation Sans, sans-serif" textLength="28.00" lengthAdjust="spacingAndGlyphs">p = 0.14</text>
<text x="589.60" y="224.80" font-size="8.6" text-anchor="start" fill="#222" stroke="#222" stroke-width="0.25" font-family="Liberation Sans, sans-serif" textLength="53.60" lengthAdjust="spacingAndGlyphs">Number at risk</text>
<line x1="589.30" y1="230.00" x2="589.30" y2="257.00" stroke="#666" stroke-width="1"/>
<line x1="588.80" y1="256.50" x2="776.50" y2="256.50" stroke="#666" stroke-width="1.3"/>
<line x1="587.30" y1="235.80" x2="589.30" y2="235.80" stroke="#666" stroke-width="1"/>
<text x="586.50" y="238.30" font-size="7" text-anchor="end" fill="#00cd00" stroke="#00cd00" stroke-width="0.25" font-family="Liberation Sans, sans-serif" textLength="20.90" lengthAdjust="spacingAndGlyphs">low-risk</text>
<text x="597.50" y="238.40" font-size="7.4" text-anchor="middle" fill="#00cd00" stroke="#00cd00" stroke-width="0.25" font-family="Liberation Sans, sans-serif" textLength="3.60" lengthAdjust="spacingAndGlyphs">9</text>
<text x="631.35" y="238.40" font-size="7.4" text-anchor="middle" fill="#00cd00" stroke="#00cd00" stroke-width="0.25" font-family="Liberation Sans, sans-serif" textLength="3.60" lengthAdjust="spacingAndGlyphs">8</text>
<text x="665.20" y="238.40" font-size="7.4" text-anchor="middle" fill="#00cd00" stroke="#00cd00" stroke-width="0.25" font-family="Liberation Sans, sans-serif" textLength="3.60" lengthAdjust="spacingAndGlyphs">2</text>
<text x="699.05" y="238.40" font-size="7.4" text-anchor="middle" fill="#00cd00" stroke="#00cd00" stroke-width="0.25" font-family="Liberation Sans, sans-serif" textLength="3.60" lengthAdjust="spacingAndGlyphs">1</text>
<text x="732.90" y="238.40" font-size="7.4" text-anchor="middle" fill="#00cd00" stroke="#00cd00" stroke-width="0.25" font-family="Liberation Sans, sans-serif" textLength="3.60" lengthAdjust="spacingAndGlyphs">0</text>
<text x="766.75" y="238.40" font-size="7.4" text-anchor="middle" fill="#00cd00" stroke="#00cd00" stroke-width="0.25" font-family="Liberation Sans, sans-serif" textLength="3.60" lengthAdjust="spacingAndGlyphs">0</text>
<line x1="587.30" y1="243.70" x2="589.30" y2="243.70" stroke="#666" stroke-width="1"/>
<text x="586.50" y="246.20" font-size="7" text-anchor="end" fill="#1e90ff" stroke="#1e90ff" stroke-width="0.25" font-family="Liberation Sans, sans-serif" textLength="34.20" lengthAdjust="spacingAndGlyphs">medium-risk</text>
<text x="597.50" y="246.30" font-size="7.4" text-anchor="middle" fill="#1e90ff" stroke="#1e90ff" stroke-width="0.25" font-family="Liberation Sans, sans-serif" textLength="7.20" lengthAdjust="spacingAndGlyphs">21</text>
<text x="631.35" y="246.30" font-size="7.4" text-anchor="middle" fill="#1e90ff" stroke="#1e90ff" stroke-width="0.25" font-family="Liberation Sans, sans-serif" textLength="7.20" lengthAdjust="spacingAndGlyphs">19</text>
<text x="665.20" y="246.30" font-size="7.4" text-anchor="middle" fill="#1e90ff" stroke="#1e90ff" stroke-width="0.25" font-family="Liberation Sans, sans-serif" textLength="3.60" lengthAdjust="spacingAndGlyphs">1</text>
<text x="699.05" y="246.30" font-size="7.4" text-anchor="middle" fill="#1e90ff" stroke="#1e90ff" stroke-width="0.25" font-family="Liberation Sans, sans-serif" textLength="3.60" lengthAdjust="spacingAndGlyphs">1</text>
<text x="732.90" y="246.30" font-size="7.4" text-anchor="middle" fill="#1e90ff" stroke="#1e90ff" stroke-width="0.25" font-family="Liberation Sans, sans-serif" textLength="3.60" lengthAdjust="spacingAndGlyphs">1</text>
<text x="766.75" y="246.30" font-size="7.4" text-anchor="middle" fill="#1e90ff" stroke="#1e90ff" stroke-width="0.25" font-family="Liberation Sans, sans-serif" textLength="3.60" lengthAdjust="spacingAndGlyphs">1</text>
<line x1="587.30" y1="251.70" x2="589.30" y2="251.70" stroke="#666" stroke-width="1"/>
<text x="586.50" y="254.20" font-size="7" text-anchor="end" fill="#ff0000" stroke="#ff0000" stroke-width="0.25" font-family="Liberation Sans, sans-serif" textLength="23.40" lengthAdjust="spacingAndGlyphs">high-risk</text>
<text x="597.50" y="254.30" font-size="7.4" text-anchor="middle" fill="#ff0000" stroke="#ff0000" stroke-width="0.25" font-family="Liberation Sans, sans-serif" textLength="7.20" lengthAdjust="spacingAndGlyphs">18</text>
<text x="631.35" y="254.30" font-size="7.4" text-anchor="middle" fill="#ff0000" stroke="#ff0000" stroke-width="0.25" font-family="Liberation Sans, sans-serif" textLength="7.20" lengthAdjust="spacingAndGlyphs">16</text>
<text x="665.20" y="254.30" font-size="7.4" text-anchor="middle" fill="#ff0000" stroke="#ff0000" stroke-width="0.25" font-family="Liberation Sans, sans-serif" textLength="3.60" lengthAdjust="spacingAndGlyphs">1</text>
<text x="699.05" y="254.30" font-size="7.4" text-anchor="middle" fill="#ff0000" stroke="#ff0000" stroke-width="0.25" font-family="Liberation Sans, sans-serif" textLength="3.60" lengthAdjust="spacingAndGlyphs">1</text>
<text x="732.90" y="254.30" font-size="7.4" text-anchor="middle" fill="#ff0000" stroke="#ff0000" stroke-width="0.25" font-family="Liberation Sans, sans-serif" textLength="3.60" lengthAdjust="spacingAndGlyphs">0</text>
<text x="766.75" y="254.30" font-size="7.4" text-anchor="middle" fill="#ff0000" stroke="#ff0000" stroke-width="0.25" font-family="Liberation Sans, sans-serif" textLength="3.60" lengthAdjust="spacingAndGlyphs">0</text>
<line x1="597.50" y1="256.50" x2="597.50" y2="258.50" stroke="#666" stroke-width="1"/>
<text x="597.50" y="265.80" font-size="7.2" text-anchor="middle" fill="#2a2a2a" stroke="#2a2a2a" stroke-width="0.25" font-family="Liberation Sans, sans-serif" textLength="3.50" lengthAdjust="spacingAndGlyphs">0</text>
<line x1="631.35" y1="256.50" x2="631.35" y2="258.50" stroke="#666" stroke-width="1"/>
<text x="631.35" y="265.80" font-size="7.2" text-anchor="middle" fill="#2a2a2a" stroke="#2a2a2a" stroke-width="0.25" font-family="Liberation Sans, sans-serif" textLength="3.50" lengthAdjust="spacingAndGlyphs">5</text>
<line x1="665.20" y1="256.50" x2="665.20" y2="258.50" stroke="#666" stroke-width="1"/>
<text x="665.20" y="265.80" font-size="7.2" text-anchor="middle" fill="#2a2a2a" stroke="#2a2a2a" stroke-width="0.25" font-family="Liberation Sans, sans-serif" textLength="7.00" lengthAdjust="spacingAndGlyphs">10</text>
<line x1="699.05" y1="256.50" x2="699.05" y2="258.50" stroke="#666" stroke-width="1"/>
<text x="699.05" y="265.80" font-size="7.2" text-anchor="middle" fill="#2a2a2a" stroke="#2a2a2a" stroke-width="0.25" font-family="Liberation Sans, sans-serif" textLength="7.00" lengthAdjust="spacingAndGlyphs">15</text>
<line x1="732.90" y1="256.50" x2="732.90" y2="258.50" stroke="#666" stroke-width="1"/>
<text x="732.90" y="265.80" font-size="7.2" text-anchor="middle" fill="#2a2a2a" stroke="#2a2a2a" stroke-width="0.25" font-family="Liberation Sans, sans-serif" textLength="7.00" lengthAdjust="spacingAndGlyphs">20</text>
<line x1="766.75" y1="256.50" x2="766.75" y2="258.50" stroke="#666" stroke-width="1"/>
<text x="766.75" y="265.80" font-size="7.2" text-anchor="middle" fill="#2a2a2a" stroke="#2a2a2a" stroke-width="0.25" font-family="Liberation Sans, sans-serif" textLength="7.00" lengthAdjust="spacingAndGlyphs">25</text>
<text x="657.20" y="275.50" font-size="8.4" text-anchor="start" fill="#222" stroke="#222" stroke-width="0.25" font-family="Liberation Sans, sans-serif" textLength="50.30" lengthAdjust="spacingAndGlyphs">Time&#160; (months)</text>
<text transform="translate(549.00,244.00) rotate(-90)" x="0" y="0" font-size="8.5" text-anchor="middle" fill="#222" stroke="#222" stroke-width="0.25" font-family="Liberation Sans, sans-serif" textLength="20.70" lengthAdjust="spacingAndGlyphs">Strata</text>
</svg>
</body></html>
